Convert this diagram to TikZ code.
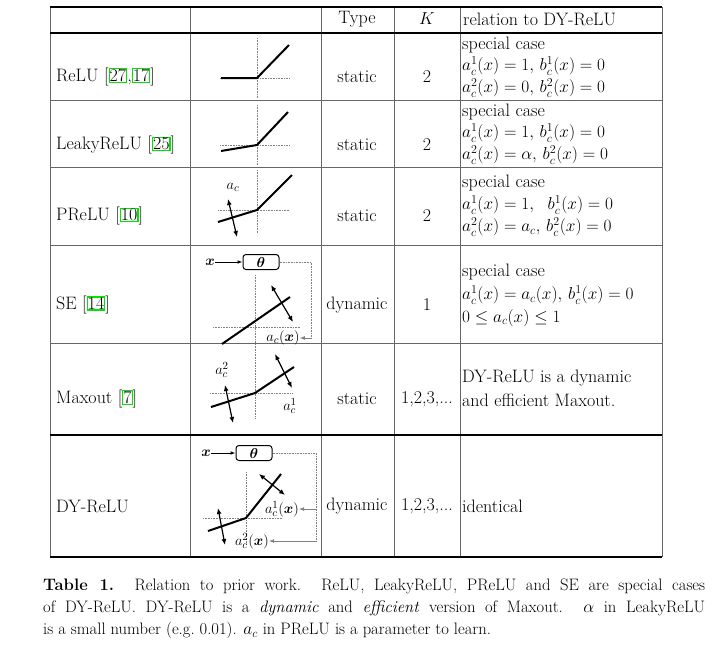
\documentclass[tikz,border=0pt]{standalone}
\usepackage{amsmath,bm}
\usetikzlibrary{arrows.meta}
\begin{document}
\begin{tikzpicture}[x=1pt,y=-1pt,
  txt/.style={font=\fontsize{18}{21}\selectfont,inner sep=0pt},
  lbl/.style={font=\fontsize{15}{17}\selectfont,inner sep=0pt},
  grid/.style={draw=gray!80!black,line width=1pt},
  rule/.style={draw=black,line width=1.6pt},
  axis/.style={draw=gray,densely dotted,line width=0.6pt},
  fn/.style={draw=black,line width=2pt},
  dbl/.style={draw=black,line width=1.2pt,{Latex[length=6pt,width=5pt]}-{Latex[length=6pt,width=5pt]}},
  fb/.style={draw=gray,densely dotted,line width=0.6pt},
  fbarr/.style={draw=gray,line width=0.6pt,-{Latex[length=5pt]}},
  thbox/.style={draw=black,line width=1pt,rounded corners=3pt,minimum width=36pt,minimum height=15pt,inner sep=0pt,font=\fontsize{15}{17}\selectfont},
  cb/.style={draw=green!90!black,line width=1.2pt,inner sep=0.5pt}]
\useasboundingbox (0,0) rectangle (714,646);
\fill[white] (0,0) rectangle (714,646);
% vertical grid
\foreach \x in {190,321,394,460} \draw[grid] (\x,7) -- (\x,557);
\draw[grid] (50,7) -- (50,557);
\draw[grid] (662,7) -- (662,557);
% horizontal rules
\draw[rule] (50,7) -- (662,7);
\draw[rule] (50,33) -- (662,33);
\draw[grid] (50,100) -- (662,100);
\draw[grid] (50,167) -- (662,167);
\draw[grid] (50,245) -- (662,245);
\draw[grid] (50,343) -- (662,343);
\draw[rule] (50,435) -- (662,435);
\draw[rule] (50,557) -- (662,557);
% header
\node[txt] (hT) at (357,19) {Type};
\node[txt] (hK) at (427,19) {$K$};
\node[txt,anchor=west] (hR) at (463,19) {relation to DY-ReLU};
% col 1
\node[txt,anchor=west] (n1) at (56,77) {ReLU [\tikz[baseline=(a.base)]\node[cb] (a) {27};,\tikz[baseline=(b.base)]\node[cb] (b) {17};]};
\node[txt,anchor=west] (n2) at (56,145) {LeakyReLU [\tikz[baseline=(c.base)]\node[cb] (c) {25};]};
\node[txt,anchor=west] (n3) at (56,216) {PReLU [\tikz[baseline=(d.base)]\node[cb] (d) {10};]};
\node[txt,anchor=west] (n4) at (56,305) {SE [\tikz[baseline=(e.base)]\node[cb] (e) {14};]};
\node[txt,anchor=west] (n5) at (56,399) {Maxout [\tikz[baseline=(f.base)]\node[cb] (f) {7};]};
\node[txt,anchor=west] (n6) at (56,506) {DY-ReLU};
% type and K
\node[txt] (t1) at (357,77) {static}; \node[txt] (k1) at (427,77) {2};
\node[txt] (t2) at (357,145) {static}; \node[txt] (k2) at (427,145) {2};
\node[txt] (t3) at (357,216) {static}; \node[txt] (k3) at (427,216) {2};
\node[txt] (t4) at (357,305) {dynamic}; \node[txt] (k4) at (427,305) {1};
\node[txt] (t5) at (357,399) {static}; \node[txt] (k5) at (427,399) {1,2,3,...};
\node[txt] (t6) at (357,506) {dynamic}; \node[txt] (k6) at (427,506) {1,2,3,...};
% relation
\node[txt,anchor=west] (r11) at (462,45) {special case};
\node[txt,anchor=west] (r12) at (462,66) {$a_c^1(x)=1,\, b_c^1(x)=0$};
\node[txt,anchor=west] (r13) at (462,88) {$a_c^2(x)=0,\, b_c^2(x)=0$};
\node[txt,anchor=west] (r21) at (462,112) {special case};
\node[txt,anchor=west] (r22) at (462,133) {$a_c^1(x)=1,\, b_c^1(x)=0$};
\node[txt,anchor=west] (r23) at (462,155) {$a_c^2(x)=\alpha,\, b_c^2(x)=0$};
\node[txt,anchor=west] (r31) at (462,183) {special case};
\node[txt,anchor=west] (r32) at (462,205) {$a_c^1(x)=1,\ \ b_c^1(x)=0$};
\node[txt,anchor=west] (r33) at (462,227) {$a_c^2(x)=a_c,\, b_c^2(x)=0$};
\node[txt,anchor=west] (r41) at (462,272) {special case};
\node[txt,anchor=west] (r42) at (462,295) {$a_c^1(x)=a_c(x),\, b_c^1(x)=0$};
\node[txt,anchor=west] (r43) at (462,318) {$0\le a_c(x)\le 1$};
\node[txt,anchor=west] (r51) at (462,378) {DY-ReLU is a dynamic};
\node[txt,anchor=west] (r52) at (462,400) {and efficient Maxout.};
\node[txt,anchor=west] (r61) at (462,506) {identical};
% ReLU sketch
\draw[axis] (257,38) -- (257,98); \draw[axis] (220,78) -- (290,78);
\draw[fn] (221,78) -- (257,78) -- (289,45);
% Leaky sketch
\draw[axis] (257,105) -- (257,165); \draw[axis] (220,145) -- (290,145);
\draw[fn] (221,151) -- (257,145) -- (288,112);
% PReLU sketch
\draw[axis] (257,170) -- (257,233); \draw[axis] (218,210) -- (290,210);
\draw[fn] (218,222) -- (257,210) -- (292,175);
\draw[dbl] (228,199) -- (237,237);
\node[lbl] (pac) at (233,187) {$a_c$};
% SE sketch
\node[lbl] (sx) at (210,262) {$\bm{x}$};
\node[thbox] (sth) at (261,262) {$\bm{\theta}$};
\draw[line width=1pt,-{Latex[length=5pt]}] (sx) -- (sth);
\draw[axis] (255,275) -- (255,345); \draw[axis] (213,327) -- (300,327);
\draw[fn] (222,344) -- (290,297);
\draw[dbl] (271,285) -- (293,322);
\node[lbl] (sac) at (283,338) {$a_c(\bm{x})$};
\coordinate (sc1) at (311,262); \coordinate (sc2) at (311,338);
\draw[fb] (sth.east) -- (sc1) -- (sc2);
\draw[fbarr] (sc2) -- (sac.east);
% Maxout sketch
\draw[axis] (255,344) -- (255,418); \draw[axis] (210,393) -- (293,393);
\draw[fn] (211,407) -- (255,393) -- (294,367);
\draw[dbl] (225,385) -- (233,423);
\draw[dbl] (275,354) -- (292,388);
\node[lbl] (ma2) at (222,370) {$a_c^2$};
\node[lbl] (ma1) at (290,406) {$a_c^1$};
% DY-ReLU sketch
\node[lbl] (dx) at (206,453) {$\bm{x}$};
\node[thbox] (dth) at (254,453) {$\bm{\theta}$};
\draw[line width=1pt,-{Latex[length=5pt]}] (dx) -- (dth);
\draw[axis] (246,472) -- (246,545); \draw[axis] (203,518) -- (283,518);
\draw[fn] (208,531) -- (246,518) -- (281,474);
\draw[dbl] (259,474) -- (285,495);
\draw[dbl] (218,508) -- (225,545);
\node[lbl] (d1) at (282,509) {$a_c^1(\bm{x})$};
\node[lbl] (d2) at (252,541) {$a_c^2(\bm{x})$};
\coordinate (dc1) at (316,453); \coordinate (dc2) at (316,541); \coordinate (dc3) at (316,509);
\draw[fb] (dth.east) -- (dc1) -- (dc2);
\draw[fbarr] (dc3) -- (d1.east);
\draw[fbarr] (dc2) -- (d2.east);
% caption
\node[anchor=north west,inner sep=0pt,text width=662pt,align=justify,font=\fontsize{16.6}{22}\selectfont] (cap) at (43,579)
 {\textbf{Table 1.} Relation to prior work. ReLU, LeakyReLU, PReLU and SE are special cases\linebreak of DY-ReLU. DY-ReLU is a \emph{dynamic} and \emph{efficient} version of Maxout. $\alpha$ in LeakyReLU\linebreak is a small number (e.g.~0.01). $a_c$ in PReLU is a parameter to learn.};
\end{tikzpicture}
\end{document}
